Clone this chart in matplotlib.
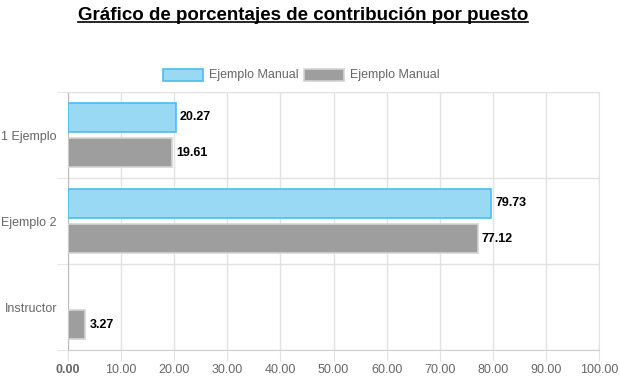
import matplotlib

matplotlib.use("Agg")
import matplotlib.pyplot as plt
import numpy as np
from matplotlib.lines import Line2D
from matplotlib.patches import Rectangle

plt.rcParams["font.family"] = ["Liberation Sans", "DejaVu Sans"]

categories = ["1 Ejemplo", "Ejemplo 2", "Instructor"]
serie_1 = [20.27, 79.73, 0.0]
serie_2 = [19.61, 77.12, 3.27]
labels = ["Ejemplo Manual", "Ejemplo Manual"]
x_ticks = np.arange(0, 101, 10)

BLUE_FILL = "#9ad9f4"
BLUE_EDGE = "#4cbdf0"
GRAY_FILL = "#9e9e9e"
GRAY_EDGE = "#d4d4d4"
GRID = "#e2e2e2"
TXT = "#666666"

fig = plt.figure(figsize=(6.2, 3.78), dpi=100)
ax = fig.add_axes([68 / 620, 1 - 350 / 378, 531 / 620, 258 / 378])

y = np.arange(len(categories))
off = 0.205
h = 0.345
bars_1 = ax.barh(y - off, serie_1, height=h, color=BLUE_FILL, edgecolor=BLUE_EDGE, linewidth=1.2, zorder=3)
bars_2 = ax.barh(y + off, serie_2, height=h, color=GRAY_FILL, edgecolor=GRAY_EDGE, linewidth=1.2, zorder=3)

# las barras en cero no se ven en el original
for bars, vals in [(bars_1, serie_1), (bars_2, serie_2)]:
    for b, v in zip(bars, vals):
        if v <= 0:
            b.set_visible(False)
        else:
            ax.text(v + 0.8, b.get_y() + b.get_height() / 2, f"{v:.2f}", va="center", ha="left",
                    fontsize=9, fontweight="bold", color="black")

ax.set_xlim(0, 100)
ax.set_ylim(len(categories) - 0.5, -0.5)
ax.set_xticks(x_ticks)
ax.set_xticklabels([f"{t:.2f}" for t in x_ticks], fontsize=9, color=TXT)
ax.get_xticklabels()[0].set_fontweight("bold")
ax.set_yticks(y)
ax.set_yticklabels(categories, fontsize=9, color=TXT)
ax.set_yticks(np.arange(len(categories) + 1) - 0.5, minor=True)
ax.tick_params(axis="y", which="major", length=0, pad=8)
ax.tick_params(axis="y", which="minor", length=8, color=GRID)
ax.tick_params(axis="x", length=8, color=GRID, pad=2)
ax.grid(axis="x", color=GRID, linewidth=1, zorder=0)
ax.grid(axis="y", which="minor", color=GRID, linewidth=1, zorder=0)
for side in ["top", "right"]:
    ax.spines[side].set_color(GRID)
ax.spines["left"].set_color("#bbbbbb")
ax.spines["bottom"].set_color("#d0d0d0")

# leyenda dibujada a mano, estilo Chart.js
lx = 163
for fill, edge, lab in [(BLUE_FILL, BLUE_EDGE, labels[0]), (GRAY_FILL, GRAY_EDGE, labels[1])]:
    fig.add_artist(Rectangle((lx / 620, 1 - 81 / 378), 40 / 620, 12 / 378,
                             facecolor=fill, edgecolor=edge, linewidth=1.2, transform=fig.transFigure))
    fig.text((lx + 46) / 620, 1 - 75 / 378, lab, fontsize=9, color=TXT, va="center", ha="left")
    lx += 141

title = fig.text(303 / 620, 1 - 15 / 378, "Gráfico de porcentajes de contribución por puesto",
                 fontsize=13.5, fontweight="bold", ha="center", va="center", color="black")
fig.canvas.draw()
bb = title.get_window_extent().transformed(fig.transFigure.inverted())
fig.add_artist(Line2D([bb.x0, bb.x1], [bb.y0 + 0.004, bb.y0 + 0.004], color="black",
                      linewidth=1.2, transform=fig.transFigure))

fig.savefig("out.png", dpi=100)
